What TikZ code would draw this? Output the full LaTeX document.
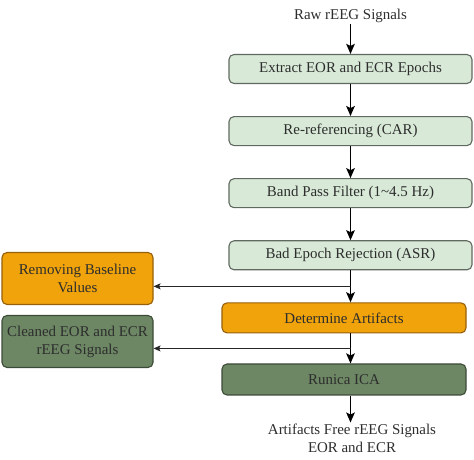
\documentclass[tikz,border=0pt]{standalone}
\usepackage{fontspec}
\setmainfont{Liberation Serif}
\usepackage{xcolor}
\usepackage{tikz}
\usetikzlibrary{positioning,arrows.meta,calc}
\definecolor{stagefill}{RGB}{216,234,215}
\definecolor{stagedraw}{RGB}{95,105,95}
\definecolor{orangefill}{RGB}{240,163,10}
\definecolor{orangedraw}{RGB}{150,95,10}
\definecolor{darkfill}{RGB}{109,135,100}
\definecolor{darkdraw}{RGB}{60,75,55}
\definecolor{txtgray}{RGB}{45,45,45}
\tikzset{
  stage/.style={rounded corners=5bp, draw=stagedraw, line width=1.1bp, fill=stagefill, align=center, minimum width=243bp, minimum height=29bp, inner sep=2bp, text=txtgray, font=\fontsize{15}{18}\selectfont},
  check/.style={stage, draw=orangedraw, fill=orangefill, minimum width=244bp, minimum height=30bp},
  ica/.style={stage, draw=darkdraw, fill=darkfill, minimum width=244bp, minimum height=31bp},
  side/.style={stage, minimum width=151bp, minimum height=52bp},
  plain/.style={align=center, inner sep=1bp, text=txtgray, font=\fontsize{15}{18}\selectfont},
  arr/.style={-{Stealth[length=10bp, width=8.5bp, inset=2bp]}, line width=1.8bp, draw=black},
  thin/.style={-{Stealth[length=7bp, width=6bp, inset=1.5bp]}, line width=0.9bp, draw=black!85},
}
\begin{document}
\begin{tikzpicture}
    \useasboundingbox (0,0) rectangle (474bp,460bp);
    \node[stage] (ext) at (350.5bp,391bp) {Extract EOR and ECR Epochs};
    \node[stage, below=32bp of ext] (reref) {Re-referencing (CAR)};
    \node[stage, below=32bp of reref] (bpf) {Band Pass Filter (1\textasciitilde4.5 Hz)};
    \node[stage, below=32bp of bpf] (bad) {Bad Epoch Rejection (ASR)};
    \node[check, below=32bp of bad, xshift=-6.5bp] (det) {Determine Artifacts};
    \node[ica, below=30bp of det] (run) {Runica ICA};
    \node[plain, above=30bp of ext] (raw) {Raw rEEG Signals};
    \node[plain, below=27bp of run, xshift=8bp] (out) {Artifacts Free rEEG Signals\\EOR and ECR};
    \node[side, draw=orangedraw, fill=orangefill] (base) at (77.5bp,181.5bp) {Removing Baseline\\Values};
    \node[side, draw=darkdraw, fill=darkfill] (clean) at (77.5bp,118.5bp) {Cleaned EOR and ECR\\rEEG Signals};
    \foreach \x/\y in {raw/ext,ext/reref,reref/bpf,bpf/bad}{\draw[arr] (\x)--(\y);}
    \draw[arr] (bad.south) -- (bad.south |- det.north);
    \draw[arr] (bad.south |- det.south) -- (bad.south |- run.north);
    \draw[arr] (bad.south |- run.south) -- (bad.south |- out.north);
    \coordinate (j1) at ($(bad.south)!0.5!(bad.south |- det.north)$);
    \coordinate (j2) at ($(bad.south |- det.south)!0.5!(bad.south |- run.north)$);
    \draw[thin] (j1) -- (base.east |- j1);
    \draw[thin] (j2) -- (clean.east |- j2);
  \end{tikzpicture}
\end{document}
